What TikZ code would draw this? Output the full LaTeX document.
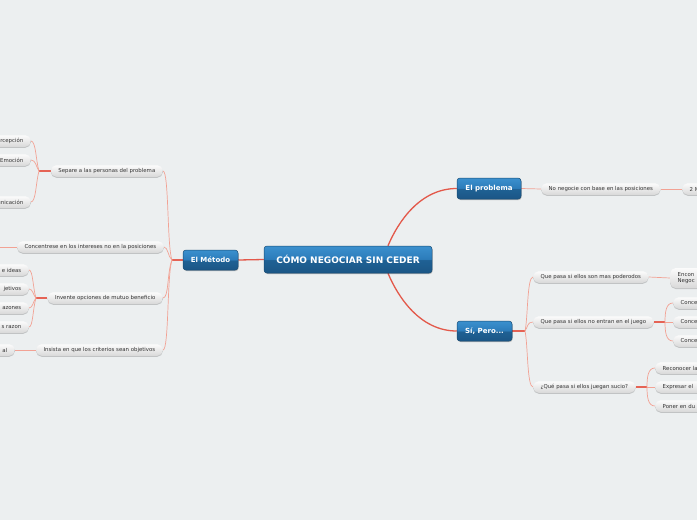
\documentclass[tikz,border=0pt]{standalone}
\usepackage{fontspec}
\setmainfont{DejaVu Sans}
\usetikzlibrary{shadows,backgrounds}
\definecolor{bg}{HTML}{ECEFF0}
\definecolor{btop}{HTML}{3B90CE}
\definecolor{bmidA}{HTML}{2C7CBA}
\definecolor{bmidB}{HTML}{1F6194}
\definecolor{bbot}{HTML}{1B5686}
\definecolor{bedge}{HTML}{184C75}
\definecolor{mainline}{HTML}{E3584A}
\definecolor{subline}{HTML}{F2A294}
\definecolor{pilltop}{HTML}{FBFBFB}
\definecolor{pillbot}{HTML}{D9D9D9}
\definecolor{pilltext}{HTML}{333333}
\pgfdeclareverticalshading{glossblue}{100bp}{color(0bp)=(bbot); color(25bp)=(bbot); color(49bp)=(bmidB); color(51bp)=(bmidA); color(75bp)=(btop); color(100bp)=(btop)}
\tikzset{
  topicbox/.style={shading=glossblue, draw=bedge, line width=0.5pt, rounded corners=3pt,
    text=white, font=\bfseries\fontsize{7}{8}\selectfont, minimum height=20pt, inner xsep=0pt,
    drop shadow={shadow xshift=0.6pt, shadow yshift=-1pt, opacity=.25, fill=black}},
  rootbox/.style={topicbox, font=\bfseries\fontsize{9}{10}\selectfont, minimum height=27pt, minimum width=168pt},
  pill/.style={top color=pilltop, bottom color=pillbot, rounded corners=5.5pt, minimum height=11.5pt,
    inner xsep=7.5pt, inner ysep=1pt, text=pilltext, font=\fontsize{5.4}{6.4}\selectfont,
    drop shadow={shadow xshift=0pt, shadow yshift=-1pt, opacity=.18, fill=black}},
  leftcut/.style={pill, anchor=east, text width=40pt, align=right},
  rightcut/.style={pill, anchor=west, text width=60pt, align=left},
  mainconn/.style={draw=mainline, line width=1.3pt},
  stub/.style={draw=mainline!85!subline, line width=1.1pt},
  branch/.style={draw=subline, line width=0.7pt},
}
\begin{document}
\begin{tikzpicture}[x=1pt,y=-1pt]
\useasboundingbox (0,0) rectangle (697,520);
% main topics
\node[rootbox] (root) at (348,259.5) {CÓMO NEGOCIAR SIN CEDER};
\node[topicbox, minimum width=55pt] (metodo) at (210.5,260) {El Método};
\node[topicbox, minimum width=64pt, minimum height=21pt] (problema) at (489,188.5) {El problema};
\node[topicbox, minimum width=55pt] (sipero) at (484.5,331) {Sí, Pero...};
% left subtopics
\node[pill, anchor=east] (s1) at (163,171) {Separe a las personas del problema};
\node[pill, anchor=east] (s2) at (164,247) {Concentrese en los intereses no en la posiciones};
\node[pill, anchor=east] (s3) at (163,298) {Invente opciones de mutuo beneficio};
\node[pill, anchor=east] (s4) at (163,350) {Insista en que los criterios sean objetivos};
% left grandchildren
\node[leftcut] (p1) at (31,141) {Percepción};
\node[leftcut] (p2) at (31,160) {Emoción};
\node[leftcut] (p3) at (31,202) {Comunicación};
\node[leftcut] (q1) at (29,270) {e ideas};
\node[leftcut] (q2) at (29,289) {jetivos};
\node[leftcut] (q3) at (29,308) {azones};
\node[leftcut] (q4) at (29,327) {s razon};
\node[leftcut] (a1) at (15,350) {al};
\coordinate (c2) at (-8,247);
% right subtopics
\node[pill, anchor=west] (r1) at (541,189) {No negocie con base en las posiciones};
\node[rightcut] (r2) at (682,189) {2 M};
\node[pill, anchor=west] (t1) at (533,277) {Que pasa si ellos son mas poderodos};
\node[pill, anchor=west] (t2) at (533,322) {Que pasa si ellos no entran en el juego};
\node[pill, anchor=west] (t3) at (533,387) {¿Qué pasa si ellos juegan sucio?};
\node[rightcut, minimum height=20pt] (u1) at (670,278) {Encon\\Negoc};
\node[rightcut] (v1) at (673,303) {Conce};
\node[rightcut] (v2) at (673,322) {Conce};
\node[rightcut] (v3) at (673,341) {Conce};
\node[rightcut] (w1) at (655,368) {Reconocer la};
\node[rightcut] (w2) at (655,387) {Expresar el};
\node[rightcut] (w3) at (655,406) {Poner en du};
% junctions
\coordinate (j1) at (172,260);
\coordinate (j2) at (39,171);
\coordinate (j3) at (36,298);
\coordinate (j4) at (525,331);
\coordinate (j5) at (665,322);
\coordinate (j6) at (647,387);
\begin{pgfonlayer}{background}
\fill[bg] (0,0) rectangle (697,520);
% main connectors
\draw[mainconn] ([xshift=40pt]root.north) .. controls (398,222) and (420,188.5) .. (problema.west);
\draw[mainconn] ([xshift=40pt]root.south) .. controls (398,297) and (420,331) .. (sipero.west);
\draw[mainconn] (root.west) -- (metodo.east);
% El Metodo
\draw[stub] (metodo.west) -- (j1);
\draw[branch] (s1.east) .. controls (169,171) and (167,247) .. (j1);
\draw[branch] (s2.east) .. controls (168,247) and (168,257) .. (j1);
\draw[branch] (s3.east) .. controls (169,298) and (167,272) .. (j1);
\draw[branch] (s4.east) .. controls (169,350) and (167,274) .. (j1);
\draw[stub] (s1.west) -- (j2);
\draw[branch] (p1.east) .. controls (36,141) and (36,162) .. (j2);
\draw[branch] (p2.east) .. controls (36,160) and (36,167) .. (j2);
\draw[branch] (p3.east) .. controls (36,202) and (36,181) .. (j2);
\draw[branch] (s2.west) -- (c2);
\draw[stub] (s3.west) -- (j3);
\draw[branch] (q1.east) .. controls (33,270) and (33,289) .. (j3);
\draw[branch] (q2.east) .. controls (33,289) and (33,295) .. (j3);
\draw[branch] (q3.east) .. controls (33,308) and (33,301) .. (j3);
\draw[branch] (q4.east) .. controls (33,327) and (33,307) .. (j3);
\draw[branch] (s4.west) -- (a1.east);
% El problema
\draw[branch] (problema.east) -- (r1.west);
\draw[branch] (r1.east) -- (r2.west);
% Si, Pero
\draw[stub] (sipero.east) -- (j4);
\draw[branch] (t1.west) .. controls (527,277) and (528,318) .. (j4);
\draw[branch] (t2.west) .. controls (527,322) and (528,327) .. (j4);
\draw[branch] (t3.west) .. controls (527,387) and (528,345) .. (j4);
\draw[branch] (t1.east) -- (u1.west);
\draw[stub] (t2.east) -- (j5);
\draw[branch] (v1.west) .. controls (666,303) and (665,312) .. (j5);
\draw[branch] (v2.west) -- (j5);
\draw[branch] (v3.west) .. controls (666,341) and (665,332) .. (j5);
\draw[stub] (t3.east) -- (j6);
\draw[branch] (w1.west) .. controls (648,368) and (647,377) .. (j6);
\draw[branch] (w2.west) -- (j6);
\draw[branch] (w3.west) .. controls (648,406) and (647,397) .. (j6);
\end{pgfonlayer}
\end{tikzpicture}
\end{document}
